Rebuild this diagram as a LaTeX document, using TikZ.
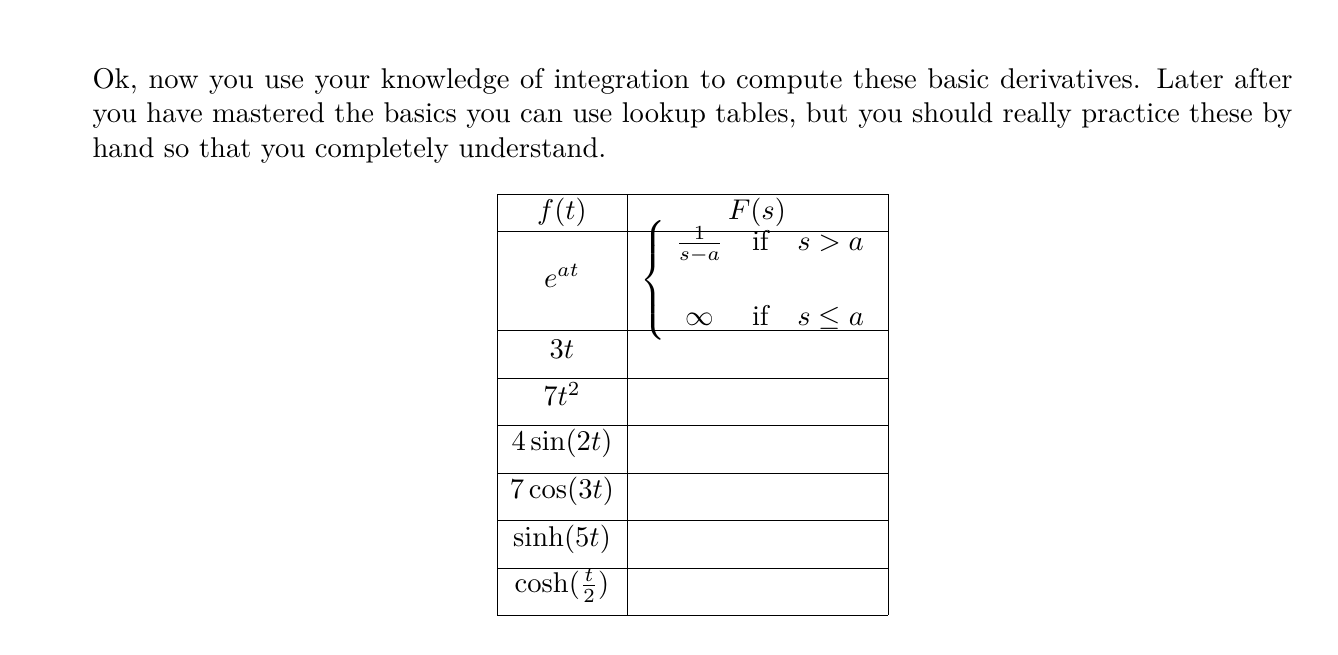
\documentclass[tikz,border=0pt]{standalone}
\usepackage{amsmath}
\begin{document}
\begin{tikzpicture}[x=0.35pt,y=-0.35pt,line width=0.35pt,
  cell/.style={inner sep=0pt,anchor=center}]
\useasboundingbox (0,0) rectangle (1338,654);
\node[anchor=north west,inner sep=0pt,text width=420pt,align=justify,font=\normalsize] (para) at (92,68)
{Ok, now you use your knowledge of integration to compute these basic derivatives. Later after you have mastered the basics you can use lookup tables, but you should really practice these by hand so that you completely understand.};
% table lines
\foreach \y in {194,231,330,378,425,473,520,568,615} \draw (497,\y) -- (888,\y);
\foreach \x in {497,627,888} \draw (\x,194) -- (\x,615);
\node[cell] (h1) at (562,212) {$f(t)$};
\node[cell] (h2) at (757,212) {$F(s)$};
\node[cell] (r1) at (562,276) {$e^{at}$};
\node[cell] (c1) at (754,280) {$\begin{cases} \ \frac{1}{s-a} & \text{if}\quad s>a\\[12pt] \ \ \infty & \text{if}\quad s\le a\end{cases}$};
\node[cell] (r2) at (562,349) {$3t$};
\node[cell] (r3) at (562,394) {$7t^2$};
\node[cell] (r4) at (562,443) {$4\sin(2t)$};
\node[cell] (r5) at (562,491) {$7\cos(3t)$};
\node[cell] (r6) at (562,539) {$\sinh(5t)$};
\node[cell] (r7) at (562,586) {$\cosh(\frac{t}{2})$};
\end{tikzpicture}
\end{document}
